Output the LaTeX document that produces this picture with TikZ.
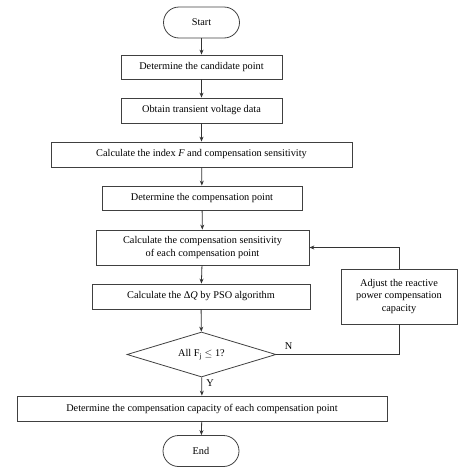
\documentclass[tikz,border=0pt]{standalone}
\usepackage{fontspec}
\setmainfont{Liberation Serif}
\usetikzlibrary{shapes.geometric,arrows.meta}
\begin{document}
\begin{tikzpicture}[x=1pt,y=-1pt,
  every node/.style={font=\fontsize{10.3}{12.2}\selectfont, text=black},
  proc/.style={draw=black!75, line width=0.8pt, rectangle, inner sep=0pt, align=center},
  term/.style={draw=black!75, line width=0.8pt, rectangle, rounded corners=15.5pt, inner sep=0pt, minimum width=76pt, minimum height=31pt},
  decide/.style={draw=black!75, line width=0.8pt, diamond, aspect=3.3, inner sep=0pt, minimum width=149pt, minimum height=45pt},
  flow/.style={draw=black!80, line width=0.8pt, -{Stealth[length=5pt,width=4pt]}},
  link/.style={draw=black!80, line width=0.8pt}
]
\useasboundingbox (0,0) rectangle (474,474);
\node[term] (start) at (201.5,22.5) {Start};
\node[proc, minimum width=161pt, minimum height=24pt] (b1) at (201.5,67) {Determine the candidate point};
\node[proc, minimum width=161pt, minimum height=25pt] (b2) at (201.5,110.5) {Obtain transient voltage data};
\node[proc, minimum width=301pt, minimum height=25pt] (b3) at (201.5,154.5) {Calculate the index \textit{F} and compensation sensitivity};
\node[proc, minimum width=200pt, minimum height=24pt] (b4) at (202,198) {Determine the compensation point};
\node[proc, minimum width=213pt, minimum height=35pt] (b5) at (202.5,247.5) {Calculate the compensation sensitivity\\of each compensation point};
\node[proc, minimum width=218pt, minimum height=25pt] (b6) at (201,296.5) {Calculate the Δ\textit{Q} by PSO algorithm};
\node[decide] (d) at (201.5,354.5) {All F\textsubscript{j} $\leq$ 1?};
\node[proc, minimum width=370pt, minimum height=25pt] (b7) at (202,408.5) {Determine the compensation capacity of each compensation point};
\node[term] (end) at (201,451) {End};
\node[proc, minimum width=116pt, minimum height=55pt] (adj) at (399,296.5) {Adjust the reactive\\power compensation\\capacity};
\coordinate (nr) at (399,354.5);
\coordinate (ur) at (399,247.5);
\draw[flow] (start) -- (b1);
\draw[flow] (b1) -- (b2);
\draw[flow] (b2) -- (b3);
\draw[flow] (b3) -- (b4);
\draw[flow] (b4) -- (b5);
\draw[flow] (b5) -- (b6);
\draw[flow] (b6) -- (d);
\draw[flow] (d) -- node[pos=0.3, right=1pt] {Y} (b7);
\draw[flow] (b7) -- (end);
\draw[link] (d.east) -- node[pos=0.1, above=1pt] {N} (nr) -- (adj.south);
\draw[flow] (adj.north) -- (ur) -- (b5.east);
\end{tikzpicture}
\end{document}
